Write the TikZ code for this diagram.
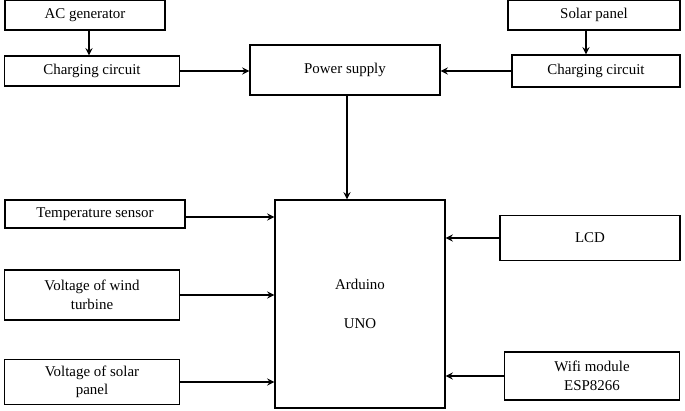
\documentclass[tikz,border=0pt]{standalone}
\usepackage{fontspec}
\setmainfont{Liberation Serif}
\begin{document}
\begin{tikzpicture}[x=0.02cm,y=-0.02cm,
  blk/.style={draw,thick,align=center,inner sep=1pt,font=\fontsize{8.5}{10.5}\selectfont},
  arr/.style={->,>=stealth,thick}]
\useasboundingbox (0,0) rectangle (685,410);
\node[blk,minimum width=160*0.02cm,minimum height=30*0.02cm] (acg) at (85,15) {AC generator};
\node[blk,minimum width=175*0.02cm,minimum height=30*0.02cm] (ccl) at (92,71) {Charging circuit};
\node[blk,minimum width=190*0.02cm,minimum height=50*0.02cm] (ps) at (345,70) {Power supply};
\node[blk,minimum width=172*0.02cm,minimum height=30*0.02cm] (sp) at (594,15) {Solar panel};
\node[blk,minimum width=168*0.02cm,minimum height=32*0.02cm] (ccr) at (596,71) {Charging circuit};
\node[blk,minimum width=170*0.02cm,minimum height=208*0.02cm] (ard) at (360,304) {Arduino\\[12pt]UNO};
\node[blk,minimum width=180*0.02cm,minimum height=28*0.02cm] (ts) at (95,214) {Temperature sensor};
\node[blk,minimum width=175*0.02cm,minimum height=50*0.02cm] (vw) at (92,295) {Voltage of wind\\turbine};
\node[blk,minimum width=175*0.02cm,minimum height=45*0.02cm] (vs) at (92,382) {Voltage of solar\\panel};
\node[blk,minimum width=180*0.02cm,minimum height=45*0.02cm] (lcd) at (590,238) {LCD};
\node[blk,minimum width=175*0.02cm,minimum height=48*0.02cm] (wifi) at (592,376) {Wifi module\\ESP8266};
\draw[arr] (acg.south) ++(4,0) coordinate (a) -- (a |- ccl.north);
\draw[arr] (sp.south) ++(-8,0) coordinate (s) -- (s |- ccr.north);
\draw[arr] (ccl.east) -- (ps.west |- ccl.east);
\draw[arr] (ccr.west) -- (ps.east |- ccr.west);
\draw[arr] (ps.south) ++(2,0) coordinate (p) -- (p |- ard.north);
\draw[arr] (ts.east) ++(0,3) coordinate (t) -- (t -| ard.west);
\draw[arr] (vw.east) -- (vw.east -| ard.west);
\draw[arr] (vs.east) -- (vs.east -| ard.west);
\draw[arr] (lcd.west) -- (lcd.west -| ard.east);
\draw[arr] (wifi.west) -- (wifi.west -| ard.east);
\end{tikzpicture}
\end{document}
